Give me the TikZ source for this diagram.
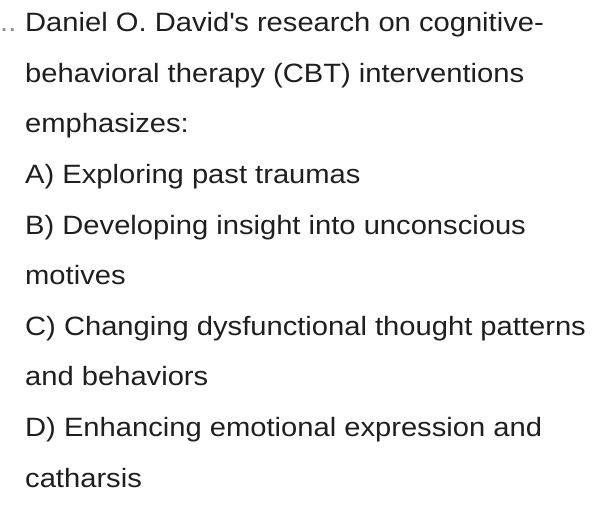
\documentclass[tikz,border=0pt]{standalone}
\usepackage{fontspec}
\setmainfont[FakeStretch=1.1,Ligatures=NoCommon]{Liberation Sans}
\begin{document}
\begin{tikzpicture}[x=1pt,y=-1pt,txt/.style={anchor=base west,inner sep=0pt,font=\fontsize{26.5}{26.5}\selectfont,text=black!88}]
\useasboundingbox[fill=white] (0,0) rectangle (604,507);
\node[txt,text=black!45] (d) at (0,31) {..};
\node[txt] (l1) at (25,31) {Daniel O. David\textquotesingle s research on cognitive-};
\node[txt] (l2) at (25,82) {behavioral therapy (CBT) interventions};
\node[txt] (l3) at (25,132) {emphasizes:};
\node[txt] (l4) at (25,183) {A) Exploring past traumas};
\node[txt] (l5) at (25,234) {B) Developing insight into unconscious};
\node[txt] (l6) at (25,284) {motives};
\node[txt] (l7) at (25,335) {C) Changing dysfunctional thought patterns};
\node[txt] (l8) at (25,385) {and behaviors};
\node[txt] (l9) at (25,436) {D) Enhancing emotional expression and};
\node[txt] (l10) at (25,487) {catharsis};
\end{tikzpicture}
\end{document}
